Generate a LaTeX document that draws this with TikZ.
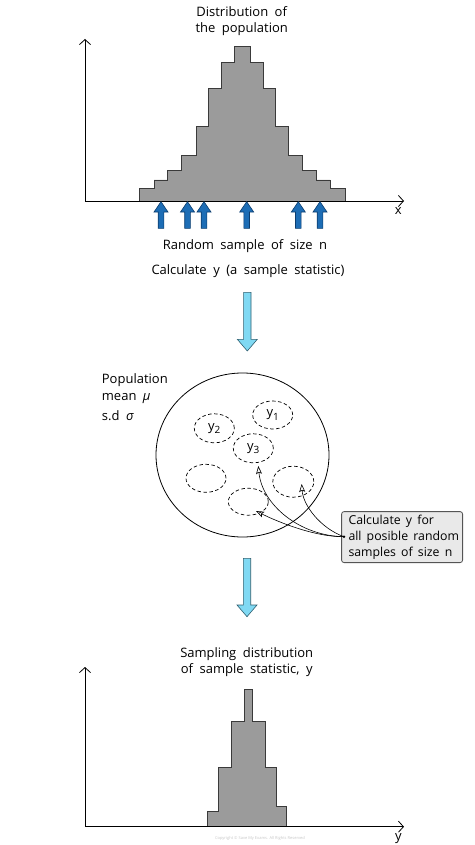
\documentclass[tikz,border=0pt]{standalone}
\usepackage{fontspec}
\setmainfont{Open Sans}
\usetikzlibrary{arrows.meta,shapes.geometric,calc}
\definecolor{histgray}{HTML}{9B9B9B}
\definecolor{histline}{HTML}{3A3A3A}
\definecolor{samblue}{HTML}{1D6DB5}
\definecolor{samblueline}{HTML}{0C3D6E}
\definecolor{lcyan}{HTML}{80D9F3}
\definecolor{cyanline}{HTML}{2F5F70}
\definecolor{notefill}{HTML}{E9E9E9}
\definecolor{noteline}{HTML}{555555}
\newcommand\mywidesp{\spaceskip=0.5em plus 0.1em\relax}
\newcommand\mynotesp{\spaceskip=0.42em plus 0.1em\relax}
\newcommand\mysub[1]{\raisebox{-0.45ex}{\fontsize{10}{10}\selectfont #1}}
\begin{document}
\begin{tikzpicture}[x=1pt,y=-1pt,
  txt/.style={font={\fontsize{13}{15}\selectfont\mywidesp}, inner sep=0pt},
  notetxt/.style={font={\fontsize{12.3}{15}\selectfont\mynotesp}, inner sep=0pt},
  axis/.style={line width=0.8pt, -{Straight Barb[length=5pt,width=11pt,line width=0.8pt]}},
  hist/.style={fill=histgray, draw=histline, line width=0.8pt},
  bluearr/.style={fill=samblue, draw=samblueline, line width=0.6pt, line join=miter},
  cyanarr/.style={fill=lcyan, draw=cyanline, line width=0.6pt, line join=miter},
  dashell/.style={ellipse, draw, dash pattern=on 3.5pt off 2.5pt, line width=0.7pt,
    minimum width=40pt, minimum height=28pt, inner sep=0pt,
    font=\fontsize{13}{14}\selectfont},
  notebox/.style={draw=noteline, fill=notefill, rounded corners=2.5pt, line width=0.8pt,
    minimum width=121pt, minimum height=51pt, inner sep=0pt},
  callarrow/.style={line width=0.6pt, -{Stealth[open,length=8pt,width=6pt,inset=1.5pt]}},
]
\useasboundingbox (0,0) rectangle (474,845);

% ---------- top: population distribution ----------
\node[txt] (t1) at (241.7,11.7) {Distribution of};
\node[txt] (t2) at (241.7,29.3) {the population};

\coordinate (o1) at (85,201);
\coordinate (ytop1) at (85,39);
\coordinate (xend1) at (404,201);
\draw[hist] (139.3,201) -- (139.3,188.7) -- (154,188.7) -- (154,180) -- (167.3,180)
  -- (167.3,170.7) -- (181.7,170.7) -- (181.7,155.3) -- (196,155.3) -- (196,126.7)
  -- (208.7,126.7) -- (208.7,88.3) -- (221.7,88.3) -- (221.7,62.7) -- (234,62.7)
  -- (234,46.7) -- (250.7,46.7) -- (250.7,62.7) -- (263.3,62.7) -- (263.3,88.3)
  -- (275,88.3) -- (275,126.7) -- (288.3,126.7) -- (288.3,155.3) -- (302.3,155.3)
  -- (302.3,170.7) -- (316.7,170.7) -- (316.7,180) -- (330,180) -- (330,188.7)
  -- (345,188.7) -- (345,201) -- cycle;
\draw[axis] (o1) -- (ytop1);
\draw[axis] (o1) -- (xend1);
\node[txt] (xlab) at (398.3,211) {x};

\foreach \ax in {161,187.5,204,246.7,298.3,320}
  \filldraw[bluearr, shift={(\ax,0)}] (-2.8,228.3) -- (-2.8,212) -- (-7,212) -- (0,201.7)
    -- (7,212) -- (2.8,212) -- (2.8,228.3) -- cycle;

\node[txt] (rs) at (245,246) {Random sample of size n};
\node[txt] (calc) at (248,271) {Calculate y (a sample statistic)};

% cyan arrow 1
\filldraw[cyanarr, shift={(247.3,292.3)}] (-3.7,0) -- (-3.7,47) -- (-10,47) -- (0,58.7)
  -- (10,47) -- (3.7,47) -- (3.7,0) -- cycle;

% ---------- middle: population circle ----------
\node[txt, anchor=west] (pop1) at (101.7,380) {Population};
\node[txt, anchor=west] (pop2) at (101.7,398.3) {mean \textit{μ}};
\node[txt, anchor=west] (pop3) at (101.7,415.7) {s.d \textit{σ}};

\node[ellipse, draw, line width=0.8pt, minimum width=173pt, minimum height=164pt, inner sep=0pt] (pop) at (242.5,455) {};

\node[dashell] (e1) at (272.7,415) {y\mysub{1}};
\node[dashell, minimum height=29pt] (e2) at (214.3,428.3) {y\mysub{2}};
\node[dashell, minimum height=29pt] (e3) at (253.3,448.3) {y\mysub{3}};
\node[dashell] (e4) at (206,478.3) {};
\node[dashell, minimum height=27pt] (e5) at (248.3,501.7) {};
\node[dashell, minimum width=41pt, minimum height=31pt] (e6) at (293.3,481.7) {};

\node[notebox, anchor=north west] (note) at (341.2,511.2) {};
\node[notetxt, anchor=west] (n1) at (348.3,521.5) {Calculate y for};
\node[notetxt, anchor=west] (n2) at (348.3,537.7) {all posible random};
\node[notetxt, anchor=west] (n3) at (348.3,553.3) {samples of size n};

\coordinate (ns) at (344,536.7);
\coordinate (tip3) at (258.3,466);
\coordinate (tip6) at (301.7,484);
\coordinate (tip5) at (256,511);
\draw[callarrow] (ns) .. controls (300,536) and (262,505) .. (tip3);
\draw[callarrow] (ns) .. controls (320,528) and (303,505) .. (tip6);
\draw[callarrow] (ns) .. controls (315,537) and (278,522) .. (tip5);
\fill (ns) circle (1.3);

% cyan arrow 2
\filldraw[cyanarr, shift={(247,558.3)}] (-3.7,0) -- (-3.7,46.7) -- (-10,46.7) -- (0,58.4)
  -- (10,46.7) -- (3.7,46.7) -- (3.7,0) -- cycle;

% ---------- bottom: sampling distribution ----------
\node[txt] (s1) at (246.7,654) {Sampling distribution};
\node[txt] (s2) at (246.7,670) {of sample statistic, y};

\coordinate (o2) at (85,826.7);
\coordinate (ytop2) at (85,667);
\coordinate (xend2) at (404,826.7);
\draw[hist] (207.3,826.7) -- (207.3,811.7) -- (218.3,811.7) -- (218.3,767.3) -- (231.7,767.3)
  -- (231.7,721.7) -- (244,721.7) -- (244,689.3) -- (252.7,689.3) -- (252.7,721.7)
  -- (265,721.7) -- (265,767.3) -- (276,767.3) -- (276,806) -- (286.7,806)
  -- (286.7,826.7) -- cycle;
\draw[axis] (o2) -- (ytop2);
\draw[axis] (o2) -- (xend2);
\node[txt] (ylab) at (398.3,839) {y};

\node[text=gray!45, font=\fontsize{4}{4}\selectfont, inner sep=0pt] (copy) at (260,838.3) {Copyright © Save My Exams. All Rights Reserved};
\end{tikzpicture}
\end{document}
